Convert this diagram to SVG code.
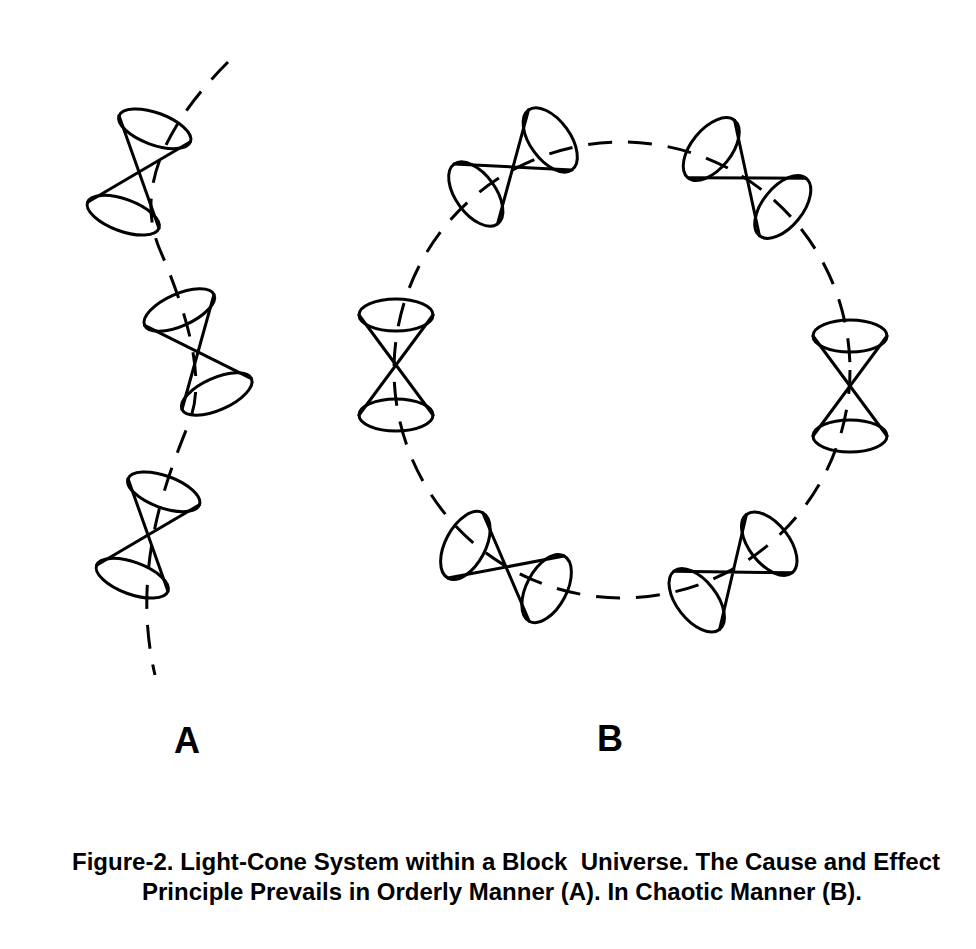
<svg xmlns="http://www.w3.org/2000/svg" width="976" height="949" viewBox="0 0 976 949">
<style>
.s{fill:none;stroke:#000;stroke-width:3;stroke-linecap:round}
.d{fill:none;stroke:#000;stroke-width:3;stroke-dasharray:24 16}
.t{font-family:"Liberation Sans",Arial,sans-serif;font-weight:bold;fill:#000}
</style>
<defs>
<g id="coneA" class="s"><ellipse cx="0" cy="-46" rx="38" ry="16"/><ellipse cx="0" cy="46" rx="38" ry="16"/><path d="M-38,-46 L38,46 M38,-46 L-38,46"/></g>
<g id="coneB" class="s"><ellipse cx="0" cy="-50" rx="37" ry="16"/><ellipse cx="0" cy="50" rx="37" ry="16"/><path d="M-37,-50 L37,50 M37,-50 L-37,50"/></g>
<g id="coneC" class="s"><ellipse cx="0" cy="-46" rx="37" ry="20"/><ellipse cx="0" cy="46" rx="37" ry="20"/><path d="M-37,-46 L37,46 M37,-46 L-37,46"/></g>
</defs>
<rect width="976" height="949" fill="#fff"/>
<g id="connectors">
<path class="d" d="M228,62 C180,110 130,180 160,250 S205,380 190,420 S128,560 155,675"/>
<circle class="d" cx="622" cy="370" r="228"/>
</g>
<g id="a1"><use href="#coneA" transform="translate(139,172) rotate(20)"/></g>
<g id="a2"><use href="#coneA" transform="translate(198,352) rotate(-24)"/></g>
<g id="a3"><use href="#coneA" transform="translate(148,535) rotate(20)"/></g>
<g id="b1"><use href="#coneB" transform="translate(396,365)"/></g>
<g id="b2"><use href="#coneB" transform="translate(850,386)"/></g>
<g id="b3"><use href="#coneC" transform="translate(513,167) rotate(54)"/></g>
<g id="b4"><use href="#coneC" transform="translate(747,178) rotate(-51)"/></g>
<g id="b5"><use href="#coneC" transform="translate(506,567) rotate(-62)"/></g>
<g id="b6"><use href="#coneC" transform="translate(733,572) rotate(52)"/></g>
<text class="t" x="187" y="753" font-size="36" text-anchor="middle">A</text>
<text class="t" x="610" y="751" font-size="36" text-anchor="middle">B</text>
<text class="t" x="72" y="870" font-size="23" textLength="868" lengthAdjust="spacingAndGlyphs" xml:space="preserve">Figure-2. Light-Cone System within a Block  Universe. The Cause and Effect</text>
<text class="t" x="142" y="900" font-size="23" textLength="720" lengthAdjust="spacingAndGlyphs">Principle Prevails in Orderly Manner (A). In Chaotic Manner (B).</text>
</svg>
